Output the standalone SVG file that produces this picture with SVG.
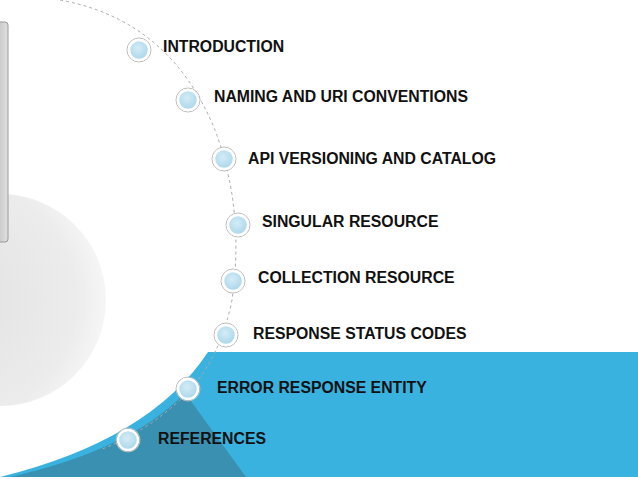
<svg xmlns="http://www.w3.org/2000/svg" width="638" height="479" viewBox="0 0 638 479">
<defs>
<radialGradient id="gc" cx="0.3" cy="0.5" r="0.7"><stop offset="0" stop-color="#e2e2e2"/><stop offset="0.8" stop-color="#ececec"/><stop offset="1" stop-color="#f6f6f6"/></radialGradient>
<radialGradient id="nb" cx="0.45" cy="0.4" r="0.6"><stop offset="0" stop-color="#d4ecf6"/><stop offset="1" stop-color="#a9d6ea"/></radialGradient>
<linearGradient id="gr" x1="0" x2="1"><stop offset="0" stop-color="#bdbdbd"/><stop offset="1" stop-color="#e0e0e0"/></linearGradient>
</defs>
<style>
.t{font-family:"Liberation Sans",Arial,sans-serif;font-weight:bold;font-size:15.8px;fill:#111}
.n{fill:url(#nb);stroke:#fff;stroke-width:2.5}
.r{fill:none;stroke:#bbb;stroke-width:1}
</style>
<rect width="638" height="479" fill="#fff"/>
<circle cx="0" cy="300" r="106" fill="url(#gc)"/>
<rect x="-6" y="22" width="14" height="220" rx="3" fill="url(#gr)" stroke="#999" stroke-width="1"/>
<path d="M208,352 L638,352 L638,477 L0,477 Q150,440 208,352 Z" fill="#3ab2e0"/>
<path d="M185,393 L246,477 L10,477 Q130,450 185,393 Z" fill="#3a90b0"/>
<g id="connectors">
<path d="M60,0 Q170,20 215,130 Q245,210 232,300 Q220,360 185,395 Q150,430 100,450" fill="none" stroke="#aaa" stroke-width="1" stroke-dasharray="3,3"/>
</g>
<g id="n1"><circle class="r" cx="139" cy="50" r="12"/><circle class="n" cx="139" cy="50" r="10"/><text class="t" x="163" y="52">INTRODUCTION</text></g>
<g id="n2"><circle class="r" cx="188" cy="100" r="12"/><circle class="n" cx="188" cy="100" r="10"/><text class="t" x="214" y="102">NAMING AND URI CONVENTIONS</text></g>
<g id="n3"><circle class="r" cx="224" cy="159" r="12"/><circle class="n" cx="224" cy="159" r="10"/><text class="t" x="248" y="164">API VERSIONING AND CATALOG</text></g>
<g id="n4"><circle class="r" cx="238" cy="225" r="12"/><circle class="n" cx="238" cy="225" r="10"/><text class="t" x="262" y="227">SINGULAR RESOURCE</text></g>
<g id="n5"><circle class="r" cx="233" cy="281" r="12"/><circle class="n" cx="233" cy="281" r="10"/><text class="t" x="258" y="283">COLLECTION RESOURCE</text></g>
<g id="n6"><circle class="r" cx="226" cy="335" r="12"/><circle class="n" cx="226" cy="335" r="10"/><text class="t" x="253" y="339">RESPONSE STATUS CODES</text></g>
<g id="n7"><circle class="r" cx="188" cy="389" r="12"/><circle class="n" cx="188" cy="389" r="10"/><text class="t" x="217" y="393">ERROR RESPONSE ENTITY</text></g>
<g id="n8"><circle class="r" cx="128" cy="440" r="12"/><circle class="n" cx="128" cy="440" r="10"/><text class="t" x="158" y="444">REFERENCES</text></g>
</svg>
